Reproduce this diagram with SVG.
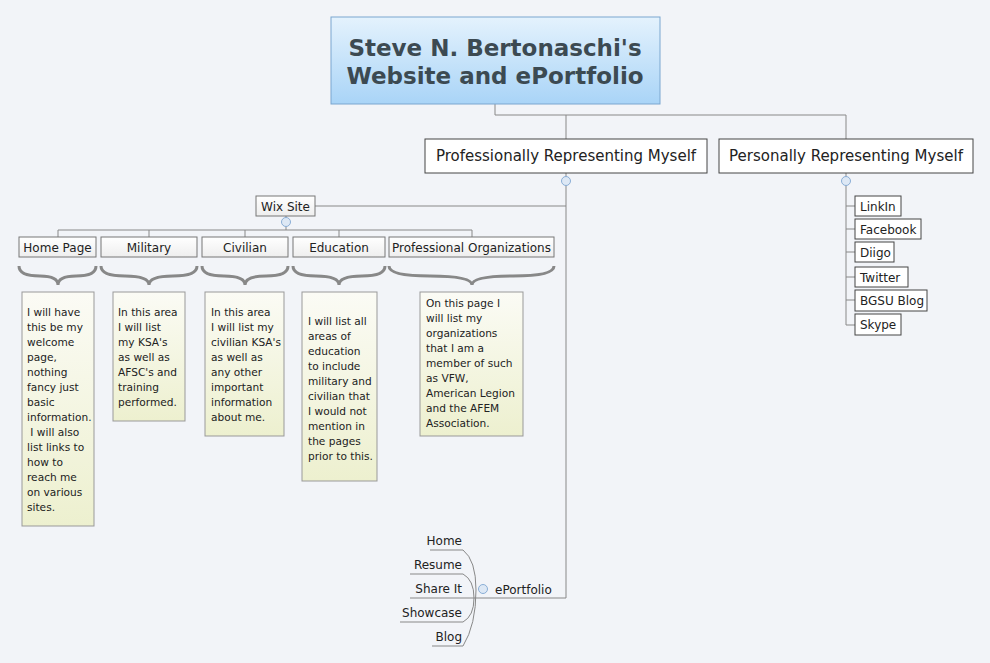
<svg xmlns="http://www.w3.org/2000/svg" width="990" height="663" viewBox="0 0 990 663">
<defs>
<linearGradient id="tg" x1="0" y1="0" x2="0" y2="1"><stop offset="0" stop-color="#e4f2fd"/><stop offset="1" stop-color="#a9d4f7"/></linearGradient>
<linearGradient id="ng" x1="0" y1="0" x2="0" y2="1"><stop offset="0" stop-color="#fbfbf5"/><stop offset="1" stop-color="#edf0cf"/></linearGradient>
<linearGradient id="bg" x1="0" y1="0" x2="0" y2="1"><stop offset="0" stop-color="#ffffff"/><stop offset="1" stop-color="#eeeeee"/></linearGradient>
</defs>
<style>
text{font-family:"DejaVu Sans",Verdana,sans-serif;fill:#222}
.b{fill:url(#bg);stroke:#777;stroke-width:1}
.w{fill:#fff;stroke:#444;stroke-width:1}
.n{fill:url(#ng);stroke:#999;stroke-width:1}
.c{fill:none;stroke:#888;stroke-width:1}
.br{fill:none;stroke:#888;stroke-width:3}
.t{font-size:12px}
.s{font-size:10.6px}
.m{fill:#dde8f5;stroke:#8aaed6;stroke-width:1}
</style>
<rect width="990" height="663" fill="#f2f4f8"/>
<g id="connectors">
<path class="c" d="M495 104V115H846M566 115V139M846 115V139"/>
<path class="c" d="M566 173V598H478M566 206H315"/>
<path class="c" d="M58 237V230H472V237M149 230V237M245 230V237M339 230V237M286 216V230"/>
<path class="c" d="M846 173V325M846 206H855M846 229H855M846 252H855M846 277H855M846 300H855M846 325H855"/>
<path class="c" d="M430 550H463M410 574H463M410 598H478M400 622H463M432 646H463"/>
<path class="c" d="M463 550Q476 560 476 590Q476 625 463 646M463 574Q474 580 474 598M463 622Q474 616 474 598"/>
<path class="br" d="M19 266Q19 276 40 276Q58 276 58 285Q58 276 76 276Q96 276 96 266"/>
<path class="br" d="M101 266Q101 276 125 276Q149 276 149 285Q149 276 173 276Q197 276 197 266"/>
<path class="br" d="M202 266Q202 276 224 276Q245 276 245 285Q245 276 266 276Q288 276 288 266"/>
<path class="br" d="M293 266Q293 276 316 276Q339 276 339 285Q339 276 362 276Q385 276 385 266"/>
<path class="br" d="M389 266Q389 276 430 276Q472 276 472 285Q472 276 513 276Q554 276 554 266"/>
</g>
<g id="title"><rect x="331" y="17" width="329" height="87" fill="url(#tg)" stroke="#7aa6cf"/>
<text x="495" y="56" text-anchor="middle" font-size="23" font-weight="bold" style="fill:#3c4a52">Steve N. Bertonaschi's</text>
<text x="495" y="84" text-anchor="middle" font-size="23" font-weight="bold" style="fill:#3c4a52">Website and ePortfolio</text></g>
<g id="prof"><rect class="w" x="425" y="139" width="282" height="34"/><text x="566" y="161" text-anchor="middle" font-size="15">Professionally Representing Myself</text><circle class="m" cx="566" cy="181" r="4.5"/></g>
<g id="pers"><rect class="w" x="719" y="139" width="254" height="34"/><text x="846" y="161" text-anchor="middle" font-size="15">Personally Representing Myself</text><circle class="m" cx="846" cy="181" r="4.5"/></g>
<g id="wix"><rect class="b" x="256" y="196" width="59" height="20"/><text class="t" x="285.5" y="211" text-anchor="middle">Wix Site</text><circle class="m" cx="286" cy="222" r="4.5"/></g>
<g id="home"><rect class="b" x="19" y="237" width="77" height="20"/><text class="t" x="57.5" y="252" text-anchor="middle">Home Page</text></g>
<g id="military"><rect class="b" x="101" y="237" width="96" height="20"/><text class="t" x="149" y="252" text-anchor="middle">Military</text></g>
<g id="civilian"><rect class="b" x="202" y="237" width="86" height="20"/><text class="t" x="245" y="252" text-anchor="middle">Civilian</text></g>
<g id="education"><rect class="b" x="293" y="237" width="92" height="20"/><text class="t" x="339" y="252" text-anchor="middle">Education</text></g>
<g id="orgs"><rect class="b" x="389" y="237" width="165" height="20"/><text class="t" x="471.5" y="252" text-anchor="middle">Professional Organizations</text></g>
<g id="n1"><rect class="n" x="22" y="292" width="72" height="234"/><text class="s"><tspan x="27" y="316">I will have</tspan><tspan x="27" y="331">this be my</tspan><tspan x="27" y="346">welcome</tspan><tspan x="27" y="361">page,</tspan><tspan x="27" y="376">nothing</tspan><tspan x="27" y="391">fancy just</tspan><tspan x="27" y="406">basic</tspan><tspan x="27" y="421">information.</tspan><tspan x="27" y="436"> I will also</tspan><tspan x="27" y="451">list links to</tspan><tspan x="27" y="466">how to</tspan><tspan x="27" y="481">reach me</tspan><tspan x="27" y="496">on various</tspan><tspan x="27" y="511">sites.</tspan></text></g>
<g id="n2"><rect class="n" x="113" y="292" width="72" height="129"/><text class="s"><tspan x="118" y="316">In this area</tspan><tspan x="118" y="331">I will list</tspan><tspan x="118" y="346">my KSA's</tspan><tspan x="118" y="361">as well as</tspan><tspan x="118" y="376">AFSC's and</tspan><tspan x="118" y="391">training</tspan><tspan x="118" y="406">performed.</tspan></text></g>
<g id="n3"><rect class="n" x="205" y="292" width="79" height="144"/><text class="s"><tspan x="211" y="316">In this area</tspan><tspan x="211" y="331">I will list my</tspan><tspan x="211" y="346">civilian KSA's</tspan><tspan x="211" y="361">as well as</tspan><tspan x="211" y="376">any other</tspan><tspan x="211" y="391">important</tspan><tspan x="211" y="406">information</tspan><tspan x="211" y="421">about me.</tspan></text></g>
<g id="n4"><rect class="n" x="302" y="292" width="75" height="189"/><text class="s"><tspan x="308" y="325">I will list all</tspan><tspan x="308" y="340">areas of</tspan><tspan x="308" y="355">education</tspan><tspan x="308" y="370">to include</tspan><tspan x="308" y="385">military and</tspan><tspan x="308" y="400">civilian that</tspan><tspan x="308" y="415">I would not</tspan><tspan x="308" y="430">mention in</tspan><tspan x="308" y="445">the pages</tspan><tspan x="308" y="460">prior to this.</tspan></text></g>
<g id="n5"><rect class="n" x="420" y="292" width="103" height="144"/><text class="s"><tspan x="426" y="307">On this page I</tspan><tspan x="426" y="322">will list my</tspan><tspan x="426" y="337">organizations</tspan><tspan x="426" y="352">that I am a</tspan><tspan x="426" y="367">member of such</tspan><tspan x="426" y="382">as VFW,</tspan><tspan x="426" y="397">American Legion</tspan><tspan x="426" y="412">and the AFEM</tspan><tspan x="426" y="427">Association.</tspan></text></g>
<g id="linkin"><rect class="w" x="855" y="196" width="46" height="20"/><text class="t" x="860" y="211">LinkIn</text></g>
<g id="facebook"><rect class="w" x="855" y="219" width="66" height="20"/><text class="t" x="860" y="234">Facebook</text></g>
<g id="diigo"><rect class="w" x="855" y="242" width="39" height="20"/><text class="t" x="860" y="257">Diigo</text></g>
<g id="twitter"><rect class="w" x="855" y="267" width="53" height="20"/><text class="t" x="860" y="282">Twitter</text></g>
<g id="bgsu"><rect class="w" x="855" y="290" width="72" height="21"/><text class="t" x="860" y="305">BGSU Blog</text></g>
<g id="skype"><rect class="w" x="855" y="314" width="46" height="21"/><text class="t" x="860" y="329">Skype</text></g>
<g id="eportfolio"><circle class="m" cx="483" cy="589" r="4.5"/><text class="t" x="495" y="594">ePortfolio</text></g>
<g id="ep-home"><text class="t" x="462" y="545" text-anchor="end">Home</text></g>
<g id="ep-resume"><text class="t" x="462" y="569" text-anchor="end">Resume</text></g>
<g id="ep-share"><text class="t" x="462" y="593" text-anchor="end">Share It</text></g>
<g id="ep-showcase"><text class="t" x="462" y="617" text-anchor="end">Showcase</text></g>
<g id="ep-blog"><text class="t" x="462" y="641" text-anchor="end">Blog</text></g>
</svg>
